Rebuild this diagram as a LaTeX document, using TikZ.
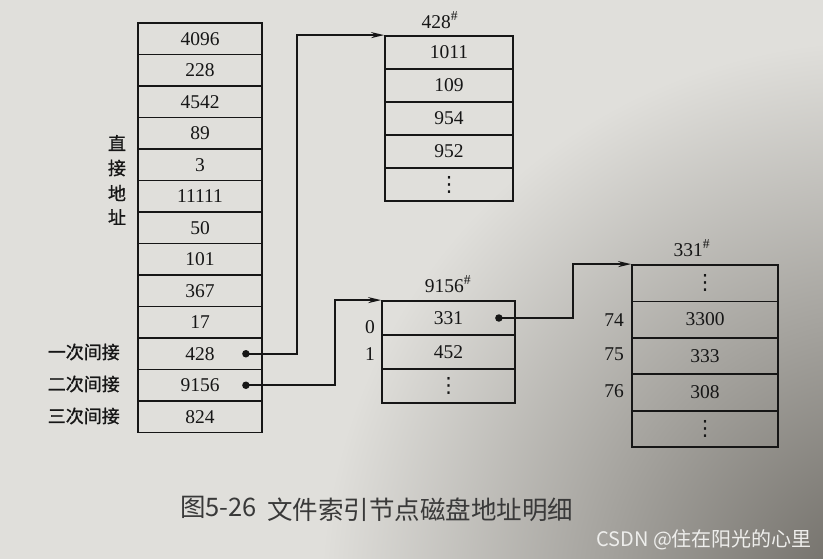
\documentclass[tikz,border=0pt]{standalone}
\usepackage{fontspec}
\setmainfont{Liberation Serif}
\newfontfamily\cjk{Noto Sans CJK SC}
\newfontfamily\cjkfb[FakeBold=1]{Noto Sans CJK SC}
\newfontfamily\dejavu{DejaVu Sans}
\newcommand\vdts{{\dejavu\fontsize{21}{21}\selectfont ⋮}}
\usetikzlibrary{arrows.meta}
\definecolor{paper}{RGB}{224,223,219}
\definecolor{shadow}{RGB}{105,102,96}
\definecolor{ink}{RGB}{22,22,22}
\definecolor{wm}{RGB}{238,238,236}
\begin{document}
\begin{tikzpicture}[x=1pt,y=-1pt,
  cell/.style={draw=ink, line width=1.8pt, rectangle, inner sep=0pt,
    font=\fontsize{19.5}{19.5}\selectfont, text=ink},
  lbl/.style={font=\fontsize{19.5}{19.5}\selectfont, text=ink, inner sep=0pt},
  zh/.style={font=\cjkfb\fontsize{18}{18}\selectfont, text=ink, inner sep=0pt},
  captext/.style={font=\cjk\fontsize{25.5}{25.5}\selectfont, text=ink!85, inner sep=0pt},
  pdot/.style={circle, fill=ink, inner sep=0pt, minimum size=7.5pt},
  link/.style={draw=ink, line width=1.8pt, -{Stealth[length=13pt,width=6pt]}},
]
\fill[paper] (0,0) rectangle (823,559);
\begin{scope}
  \clip (0,0) rectangle (823,559);
  \shade[inner color=shadow, outer color=paper] (880,600) circle (560);
\end{scope}
\useasboundingbox (0,0) rectangle (823,559);

% main inode table
\foreach \v [count=\i] in {4096,228,4542,89,3,11111,50,101,367,17,428,9156,824} {
  \node[cell, minimum width=124pt, minimum height=31.5pt] (m\i) at (200,{23+31.5*(\i-0.5)}) {\v};
}
% side labels
\node[zh] (z1) at (117,143) {直};
\node[zh] (z2) at (117,168) {接};
\node[zh] (z3) at (117,193) {地};
\node[zh] (z4) at (117,217) {址};
\node[zh, anchor=east] (l1) at (120,352) {一次间接};
\node[zh, anchor=east] (l2) at (120,384) {二次间接};
\node[zh, anchor=east] (l3) at (120,416) {三次间接};

% table 428#
\foreach \v [count=\i] in {1011,109,954,952,\vdts} {
  \node[cell, minimum width=128pt, minimum height=33pt] (a\i) at (449,{36+33*(\i-0.5)}) {\v};
}
\node[lbl] (ta) at (440,20) {428\textsuperscript{\#}};

% table 9156#
\foreach \v [count=\i] in {331,452,\vdts} {
  \node[cell, minimum width=133pt, minimum height=34pt] (b\i) at (448.5,{301+34*(\i-0.5)}) {\v};
}
\node[lbl] (tb) at (448,284) {9156\textsuperscript{\#}};
\node[lbl, anchor=east] (ib0) at (375,327) {0};
\node[lbl, anchor=east] (ib1) at (375,354) {1};

% table 331#
\foreach \v [count=\i] in {\vdts,3300,333,308,\vdts} {
  \node[cell, minimum width=146pt, minimum height=36.4pt] (c\i) at (705,{265+36.4*(\i-0.5)}) {\v};
}
\node[lbl] (tc) at (692,248) {331\textsuperscript{\#}};
\node[lbl, anchor=east] (ic74) at (624,320) {74};
\node[lbl, anchor=east] (ic75) at (624,354) {75};
\node[lbl, anchor=east] (ic76) at (624,391) {76};

% pointer dots
\node[pdot, xshift=-17pt] (d1) at (m11.east) {};
\node[pdot, xshift=-17pt] (d2) at (m12.east) {};
\node[pdot, xshift=-17pt] (d3) at (b1.east) {};

% connectors
\coordinate (k1) at (297,0);
\coordinate (k2) at (335,0);
\coordinate (k3) at (573,0);
\draw[link] (d1.center) -| (k1 |- a1.north west) -- (a1.north west);
\draw[link] (d2.center) -| (k2 |- b1.north west) -- (b1.north west);
\draw[link] (d3.center) -| (k3 |- c1.north west) -- (c1.north west);

% caption
\node[captext, anchor=west] (cap1) at (180,507) {图5-26};
\node[captext, anchor=west] (cap2) at (267,510) {文件索引节点磁盘地址明细};

% watermark
\node[font=\cjk\fontsize{20}{20}\selectfont, text=wm, anchor=west, inner sep=0pt] (wmk) at (596,540) {CSDN @住在阳光的心里};
\end{tikzpicture}
\end{document}
